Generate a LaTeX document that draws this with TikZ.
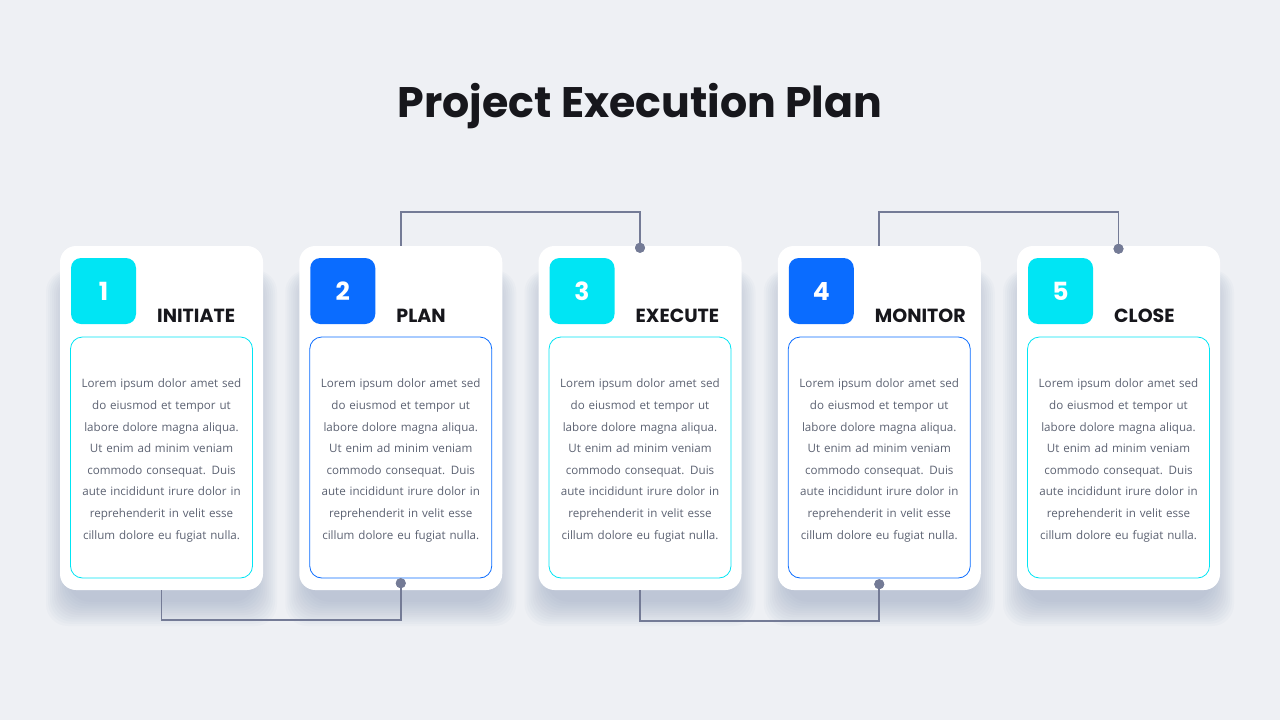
\documentclass[tikz,border=0pt]{standalone}
\usepackage{fontspec}
\setmainfont{Open Sans}
\newfontfamily\popp{Poppins}
\definecolor{bg}{HTML}{EEF0F4}
\definecolor{cyanA}{HTML}{00E5F4}
\definecolor{blueA}{HTML}{0A6CFF}
\definecolor{connC}{HTML}{747B96}
\definecolor{bodyC}{HTML}{5C6272}
\definecolor{headC}{HTML}{17171C}
\definecolor{shadC}{HTML}{8494B4}
\tikzset{
  card/.style={fill=white, rounded corners=16pt, minimum width=203pt, minimum height=344pt, inner sep=0pt},
  numbox/.style={rounded corners=10pt, minimum width=65pt, minimum height=66pt, inner sep=0pt, text=white, font=\popp\bfseries\fontsize{25}{25}\selectfont},
  headtxt/.style={anchor=base west, inner sep=0pt, text=headC, font=\popp\bfseries\fontsize{19}{19}\selectfont},
  bodybox/.style={draw, line width=0.8pt, fill=white, rounded corners=12pt, minimum width=182pt, minimum height=241pt, inner sep=0pt},
  bodytxt/.style={inner sep=0pt, text width=176pt, align=center, text=bodyC, font=\fontsize{11.6}{21.6}\selectfont},
  conn/.style={draw=connC, line width=1.6pt},
  dotc/.style={circle, fill=connC, minimum size=10pt, inner sep=0pt}
}
\begin{document}
\begin{tikzpicture}[x=1pt,y=-1pt]
\fill[bg] (0,0) rectangle (1280,720);
\useasboundingbox (0,0) rectangle (1280,720);
\node[font=\popp\bfseries\fontsize{42.7}{42.7}\selectfont, text=headC, anchor=base, inner sep=0pt] (title) at (640,117) {Project Execution Plan};
% shadows
\foreach \i in {0,1,2,3,4} {
  \pgfmathsetmacro{\xl}{60+239.25*\i}
  \foreach \k in {0,2,...,22} {
    \fill[shadC, opacity=0.042, rounded corners=22pt] (\xl+\k-14, 270+\k*0.3) rectangle (\xl+203-\k+14, 590+36-\k*1.1);
  }
}
% cards
\foreach \i/\col in {1/cyanA,2/blueA,3/cyanA,4/blueA,5/cyanA} {
  \pgfmathsetmacro{\xl}{60+239.25*(\i-1)}
  \node[card] (card\i) at (\xl+101.5, 418) {};
  \node[numbox, fill=\col] (num\i) at (\xl+43.5, 291) {\i};
  \node[bodybox, draw=\col] (body\i) at (\xl+101.5, 457.5) {};
  \node[bodytxt] (text\i) at (\xl+101.5, 460.5) {Lorem ipsum dolor amet sed\\ do eiusmod et tempor ut\\ labore dolore magna aliqua.\\ Ut enim ad minim veniam\\ commodo consequat. Duis\\ aute incididunt irure dolor in\\ reprehenderit in velit esse\\ cillum dolore eu fugiat nulla.};
}
\node[headtxt] (head1) at (157,322) {INITIATE};
\node[headtxt] (head2) at (396.25,322) {PLAN};
\node[headtxt] (head3) at (635.5,322) {EXECUTE};
\node[headtxt] (head4) at (874.75,322) {MONITOR};
\node[headtxt] (head5) at (1114,322) {CLOSE};
% connectors
\node[dotc] (dtop3) at ([yshift=-2pt]card3.north) {};
\node[dotc] (dtop5) at ([yshift=-3pt]card5.north) {};
\node[dotc] (dbot2) at ([yshift=7pt]card2.south) {};
\node[dotc] (dbot4) at ([yshift=6pt]card4.south) {};
\draw[conn] (card2.north) -- ++(0,-34) -| (dtop3.center);
\draw[conn] (card4.north) -- ++(0,-34) -| (dtop5.center);
\draw[conn] (card1.south) -- ++(0,30) -| (dbot2.center);
\draw[conn] (card3.south) -- ++(0,31) -| (dbot4.center);
\node[dotc] at (dtop3) {};
\node[dotc] at (dtop5) {};
\node[dotc] at (dbot2) {};
\node[dotc] at (dbot4) {};
\end{tikzpicture}
\end{document}
